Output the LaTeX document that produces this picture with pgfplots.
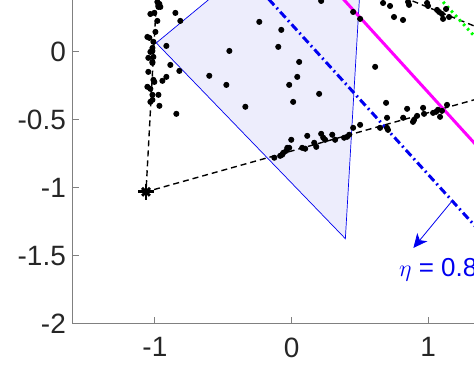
\documentclass[border=0pt]{standalone}
\usepackage{fontspec}
\setmainfont{Liberation Sans}
\usepackage{pgfplots}
\pgfplotsset{compat=1.18}
\usetikzlibrary{arrows.meta}
\definecolor{axgray}{rgb}{0.15,0.15,0.15}
\definecolor{patchfill}{RGB}{237,237,252}
\definecolor{mlgreen}{RGB}{0,255,0}
\definecolor{mlmag}{RGB}{255,0,255}
\definecolor{mlblue}{RGB}{0,0,240}
\pgfplotstableread{
x y
-0.982 0.368
-0.967 0.353
-0.974 0.331
-0.960 0.331
-1.033 0.279
-1.004 0.287
-0.850 0.287
-0.814 0.228
-0.982 0.228
-0.996 0.147
-1.055 0.110
-1.040 0.103
-0.916 0.044
-1.011 0.074
-1.018 0.029
-1.018 0.007
-1.033 0.000
-1.048 -0.044
-1.011 -0.037
-1.018 -0.074
-1.018 -0.081
-0.887 -0.096
-0.821 -0.140
-1.048 -0.147
-0.602 -0.176
-1.011 -0.206
-1.004 -0.221
-0.945 -0.213
-0.916 -0.184
-1.055 -0.257
-1.033 -0.272
-1.018 -0.316
-0.974 -0.316
-1.018 -0.353
-1.033 -0.368
-0.967 -0.397
-0.843 -0.456
0.217 0.375
-0.236 0.221
-0.075 0.162
-0.455 0.007
-0.097 0.037
0.056 -0.074
0.042 -0.184
-0.477 -0.243
-0.017 -0.243
0.202 -0.309
0.012 -0.368
-0.338 -0.404
-0.126 -0.779
-0.083 -0.765
-0.068 -0.757
-0.061 -0.743
-0.039 -0.728
-0.031 -0.706
-0.017 -0.706
-0.002 -0.647
0.078 -0.706
0.100 -0.713
0.115 -0.618
0.166 -0.669
0.181 -0.699
0.217 -0.603
0.232 -0.632
0.246 -0.647
0.298 -0.610
0.319 -0.647
0.385 -0.632
0.407 -0.625
0.422 -0.610
0.451 -0.559
0.502 -0.537
0.692 -0.375
0.699 -0.485
0.648 -0.559
0.699 -0.559
0.706 -0.574
0.817 -0.485
0.846 -0.419
0.889 -0.515
0.897 -0.500
0.919 -0.471
0.963 -0.412
0.970 -0.456
1.036 -0.449
1.058 -0.441
1.072 -0.426
1.087 -0.478
1.101 -0.434
1.138 -0.390
0.451 0.294
0.502 0.243
0.670 0.360
0.721 0.338
0.853 0.368
0.860 0.346
0.992 0.360
0.999 0.338
1.065 0.309
1.080 0.294
1.101 0.279
1.131 0.316
1.153 0.257
1.109 0.243
0.750 0.257
0.816 0.235
0.612 -0.110
}\dots
\begin{document}
\begin{tikzpicture}
\begin{axis}[
  scale only axis, width=200.8pt, height=162pt,
  xmin=-1.6, xmax=1.3355, ymin=-2, ymax=0.382,
  axis x line*=bottom, axis y line*=left,
  axis line style={-, draw=black!50, line width=0.5pt},
  xtick={-1,0,1}, ytick={-2,-1.5,-1,-0.5,0},
  tick align=inside, major tick length=3.3pt,
  tick style={black!50, line width=0.5pt},
  ticklabel style={font=\fontsize{14}{16}\selectfont, text=axgray, /pgf/number format/assume math mode=true},
  xticklabel style={yshift=-3.5pt},
  clip=true,
]
\coordinate (bl) at (rel axis cs:0,0);
\coordinate (tr) at (rel axis cs:1,1);
% shaded polygon
\addplot[fill=patchfill, draw=mlblue, line width=0.35pt] coordinates {(-0.99,0.066) (-0.347,0.6) (0.509,0.6) (0.394,-1.375)} -- cycle;
% dashed lines from the star
\addplot[black, line width=0.7pt, dash pattern=on 3pt off 2pt] coordinates {(-0.985,0.45) (-1.065,-1.03) (1.40,-0.335)};
\addplot[black, line width=0.7pt, dash pattern=on 3pt off 2pt] coordinates {(0.75,0.43) (1.40,0.165)};
% dots
\addplot[only marks, mark=*, mark size=1.3pt, black] table[x=x,y=y] {\dots};
% lines
\addplot[mlblue, line width=1.5pt, dash pattern=on 4pt off 1.8pt on 0.9pt off 1.8pt] coordinates {(-0.25,0.48) (1.45,-1.40)};
\addplot[mlmag, line width=1.5pt] coordinates {(0.30,0.476) (1.45,-0.795)};
\addplot[mlgreen, line width=1.5pt, dash pattern=on 1.2pt off 1.8pt] coordinates {(1.05,0.433) (1.45,-0.007)};
% star
\addplot[only marks, mark=+, mark size=3.9pt, line width=1.4pt, black] coordinates {(-1.065,-1.03)};
\addplot[only marks, mark=x, mark size=2.8pt, line width=1.4pt, black] coordinates {(-1.065,-1.03)};
% arrow
\addplot[mlblue, line width=0.4pt, -{Stealth[length=7pt,width=6.5pt,inset=2pt]}] coordinates {(1.172,-1.101) (0.892,-1.443)};
\node[anchor=base west, inner sep=0pt, text=mlblue, font=\fontsize{13}{15}\selectfont] at (axis cs:0.785,-1.654) {$\eta$ = 0.8};
\end{axis}
\pgfresetboundingbox
\useasboundingbox ([xshift=-36.5pt,yshift=-22.4pt]bl) rectangle (tr);
\end{tikzpicture}
\end{document}
